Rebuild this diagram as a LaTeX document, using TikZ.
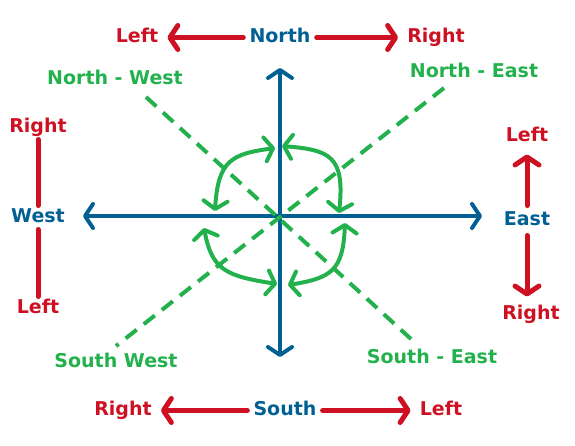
\documentclass[tikz,border=0pt]{standalone}
\usepackage{fontspec}
\setmainfont{DejaVu Sans}
\usetikzlibrary{arrows.meta}
\definecolor{axisblue}{RGB}{0,96,148}
\definecolor{turnred}{RGB}{206,17,34}
\definecolor{diaggreen}{RGB}{34,177,76}
\tikzset{
  chev/.tip={Straight Barb[length=8pt, width=24pt, round]},
  spinchev/.tip={Straight Barb[length=8pt, width=24pt, round]},
  lbl/.style={font=\fontsize{19}{21}\selectfont\bfseries, inner sep=3pt,
    text height=13.5pt, text depth=4pt, yshift=-2.5pt},
  dirlbl/.style={lbl, text=axisblue},
  turnlbl/.style={lbl, text=turnred},
  diaglbl/.style={lbl, text=diaggreen},
  axis/.style={draw=axisblue, line width=4pt, line cap=round, chev-chev},
  turnline/.style={draw=turnred, line width=5pt, line cap=round},
  turnarr/.style={turnline, -chev, shorten >=6pt, shorten <=3pt},
  diag/.style={draw=diaggreen, line width=4pt, dash pattern=on 14pt off 9pt},
  spin/.style={draw=diaggreen, line width=4pt, line cap=round, spinchev-spinchev},
}

\begin{document}
\begin{tikzpicture}[x=1pt, y=-1pt]
\useasboundingbox (0,0) rectangle (575,446);
% ---- compass labels ----
\node[dirlbl] (north) at (280,35) {North};
\node[dirlbl] (south) at (285,408) {South};
\node[dirlbl] (west)  at (38,215) {West};
\node[dirlbl] (east)  at (527,218) {East};
% ---- left / right labels ----
\node[turnlbl] (nleft)  at (137,35)  {Left};
\node[turnlbl] (nright) at (436,35)  {Right};
\node[turnlbl] (sright) at (123,408) {Right};
\node[turnlbl] (sleft)  at (441,408) {Left};
\node[turnlbl] (wright) at (38,125)  {Right};
\node[turnlbl] (wleft)  at (38,306)  {Left};
\node[turnlbl] (eleft)  at (527,134) {Left};
\node[turnlbl] (eright) at (531,312) {Right};
% ---- diagonal labels ----
\node[diaglbl] (nw) at (115,77)  {North - West};
\node[diaglbl] (ne) at (474,70)  {North - East};
\node[diaglbl] (sw) at (116,360) {South West};
\node[diaglbl] (se) at (432,356) {South - East};
% ---- axes ----
\coordinate (ntip) at (280,68);
\coordinate (stip) at (280,357);
\coordinate (wtip) at (83,216);
\coordinate (etip) at (482,216);
\draw[axis] (stip) -- (ntip);
\draw[axis] (wtip) -- (etip);
% ---- diagonals ----
\coordinate (nwend) at (146,97);
\coordinate (seend) at (411,339);
\coordinate (neend) at (444,88);
\coordinate (swend) at (116,346);
\draw[diag] (nwend) -- (seend);
\draw[diag] (neend) -- (swend);
% ---- turn arrows ----
\draw[turnarr] (north) -- (nleft);
\draw[turnarr] (north) -- (nright);
\draw[turnarr] (south) -- (sright);
\draw[turnarr] (south) -- (sleft);
\draw[turnline] (west) -- (wright);
\draw[turnline] (west) -- (wleft);
\draw[turnarr] (east) -- (eleft);
\draw[turnarr] (east.south) -- (east.south |- eright.north);
% ---- curved arrows round the centre ----
\coordinate (tla) at (215,211);
\coordinate (tlb) at (275,148);
\coordinate (tra) at (282,146);
\coordinate (trb) at (339,213);
\coordinate (bla) at (204,228);
\coordinate (blb) at (277,284);
\coordinate (bra) at (345,223);
\coordinate (brb) at (288,285);
\draw[spin] (tla) .. controls (218,160) and (232,154) .. (tlb);
\draw[spin] (tra) .. controls (330,150) and (345,156) .. (trb);
\draw[spin] (bla) .. controls (212,270) and (226,276) .. (blb);
\draw[spin] (bra) .. controls (343,270) and (332,278) .. (brb);
\end{tikzpicture}
\end{document}
